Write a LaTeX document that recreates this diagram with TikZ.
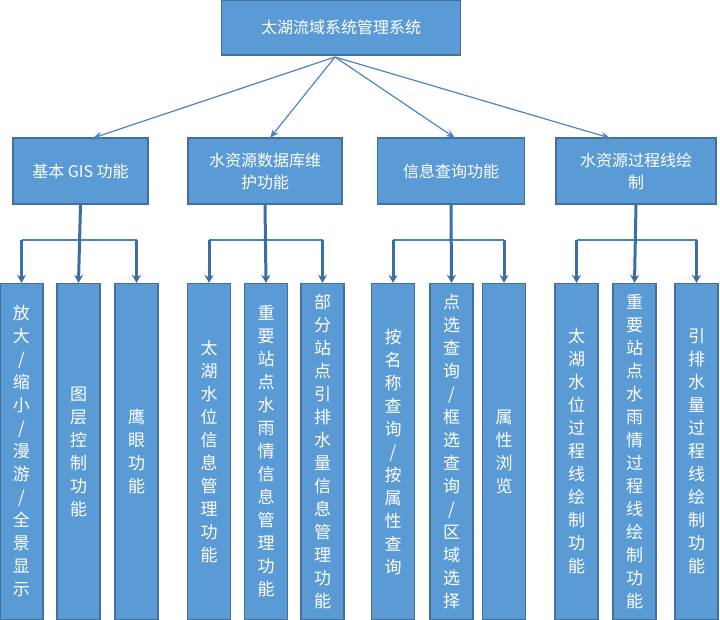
\documentclass[tikz,border=0pt]{standalone}
\usepackage{fontspec}
\setmainfont{Noto Sans CJK SC}
\usetikzlibrary{arrows.meta}
\definecolor{boxfill}{HTML}{5B9BD5}
\definecolor{boxline}{HTML}{41719C}
\definecolor{arr}{HTML}{4A86C5}
\definecolor{thick}{HTML}{3C6EA6}
\tikzset{
  box/.style={draw=boxline,fill=boxfill,line width=1.2pt,text=white,font=\fontsize{16}{22}\selectfont,align=center,inner sep=2pt},
  leaf/.style={box,font=\fontsize{17}{23}\selectfont,minimum width=43pt,minimum height=336pt,text width=18pt,inner sep=1pt},
  toparr/.style={draw=arr,line width=1.2pt,-{Stealth[length=9pt,width=7pt]}},
  barline/.style={draw=arr,line width=1.2pt},
  down/.style={draw=thick,line width=3pt,-{Stealth[length=8pt,width=9pt]}}
}
\begin{document}
\begin{tikzpicture}[x=1pt,y=-1pt]
\useasboundingbox (0,0) rectangle (720,620);
\node[box,minimum width=239pt,minimum height=55pt] (top) at (341,27.5) {太湖流域系统管理系统};
\node[box,minimum width=135pt,minimum height=66pt] (a) at (80.5,171) {基本 GIS 功能};
\node[box,minimum width=154pt,minimum height=66pt] (b) at (265,171) {水资源数据库维\\护功能};
\node[box,minimum width=147pt,minimum height=66pt] (c) at (451,171) {信息查询功能};
\node[box,minimum width=160pt,minimum height=66pt] (d) at (636,171) {水资源过程线绘\\制};
\coordinate (s) at (335,57);
\draw[toparr] (s) -- (93,138);
\draw[toparr] (s) -- (270,138);
\draw[toparr] (s) -- (455,138);
\draw[toparr] (s) -- (610,138);
% leaves
\node[leaf] (a1) at (21.5,451.5) {放\\大\\/\\缩\\小\\/\\漫\\游\\/\\全\\景\\显\\示};
\node[leaf] (a2) at (78.5,451.5) {图\\层\\控\\制\\功\\能};
\node[leaf] (a3) at (136.5,451.5) {鹰\\眼\\功\\能};
\node[leaf] (b1) at (209,451.5) {太\\湖\\水\\位\\信\\息\\管\\理\\功\\能};
\node[leaf] (b2) at (266,451.5) {重\\要\\站\\点\\水\\雨\\情\\信\\息\\管\\理\\功\\能};
\node[leaf] (b3) at (322.5,451.5) {部\\分\\站\\点\\引\\排\\水\\量\\信\\息\\管\\理\\功\\能};
\node[leaf] (c1) at (393,451.5) {按\\名\\称\\查\\询\\/\\按\\属\\性\\查\\询};
\node[leaf] (c2) at (451.5,451.5) {点\\选\\查\\询\\/\\框\\选\\查\\询\\/\\区\\域\\选\\择};
\node[leaf] (c3) at (504,451.5) {属\\性\\浏\\览};
\node[leaf] (d1) at (576.5,451.5) {太\\湖\\水\\位\\过\\程\\线\\绘\\制\\功\\能};
\node[leaf] (d2) at (634.5,451.5) {重\\要\\站\\点\\水\\雨\\情\\过\\程\\线\\绘\\制\\功\\能};
\node[leaf] (d3) at (696.5,451.5) {引\\排\\水\\量\\过\\程\\线\\绘\\制\\功\\能};
% connectors
\foreach \p/\l/\m/\r in {a/a1/a2/a3,b/b1/b2/b3,c/c1/c2/c3,d/d1/d2/d3}{
  \draw[barline] (\l.north |- 0,240) -- (\r.north |- 0,240);
  \draw[down] (\p.south) -- (\m.north);
  \draw[down] (\l.north |- 0,240) -- (\l.north);
  \draw[down] (\r.north |- 0,240) -- (\r.north);
}
\end{tikzpicture}
\end{document}
